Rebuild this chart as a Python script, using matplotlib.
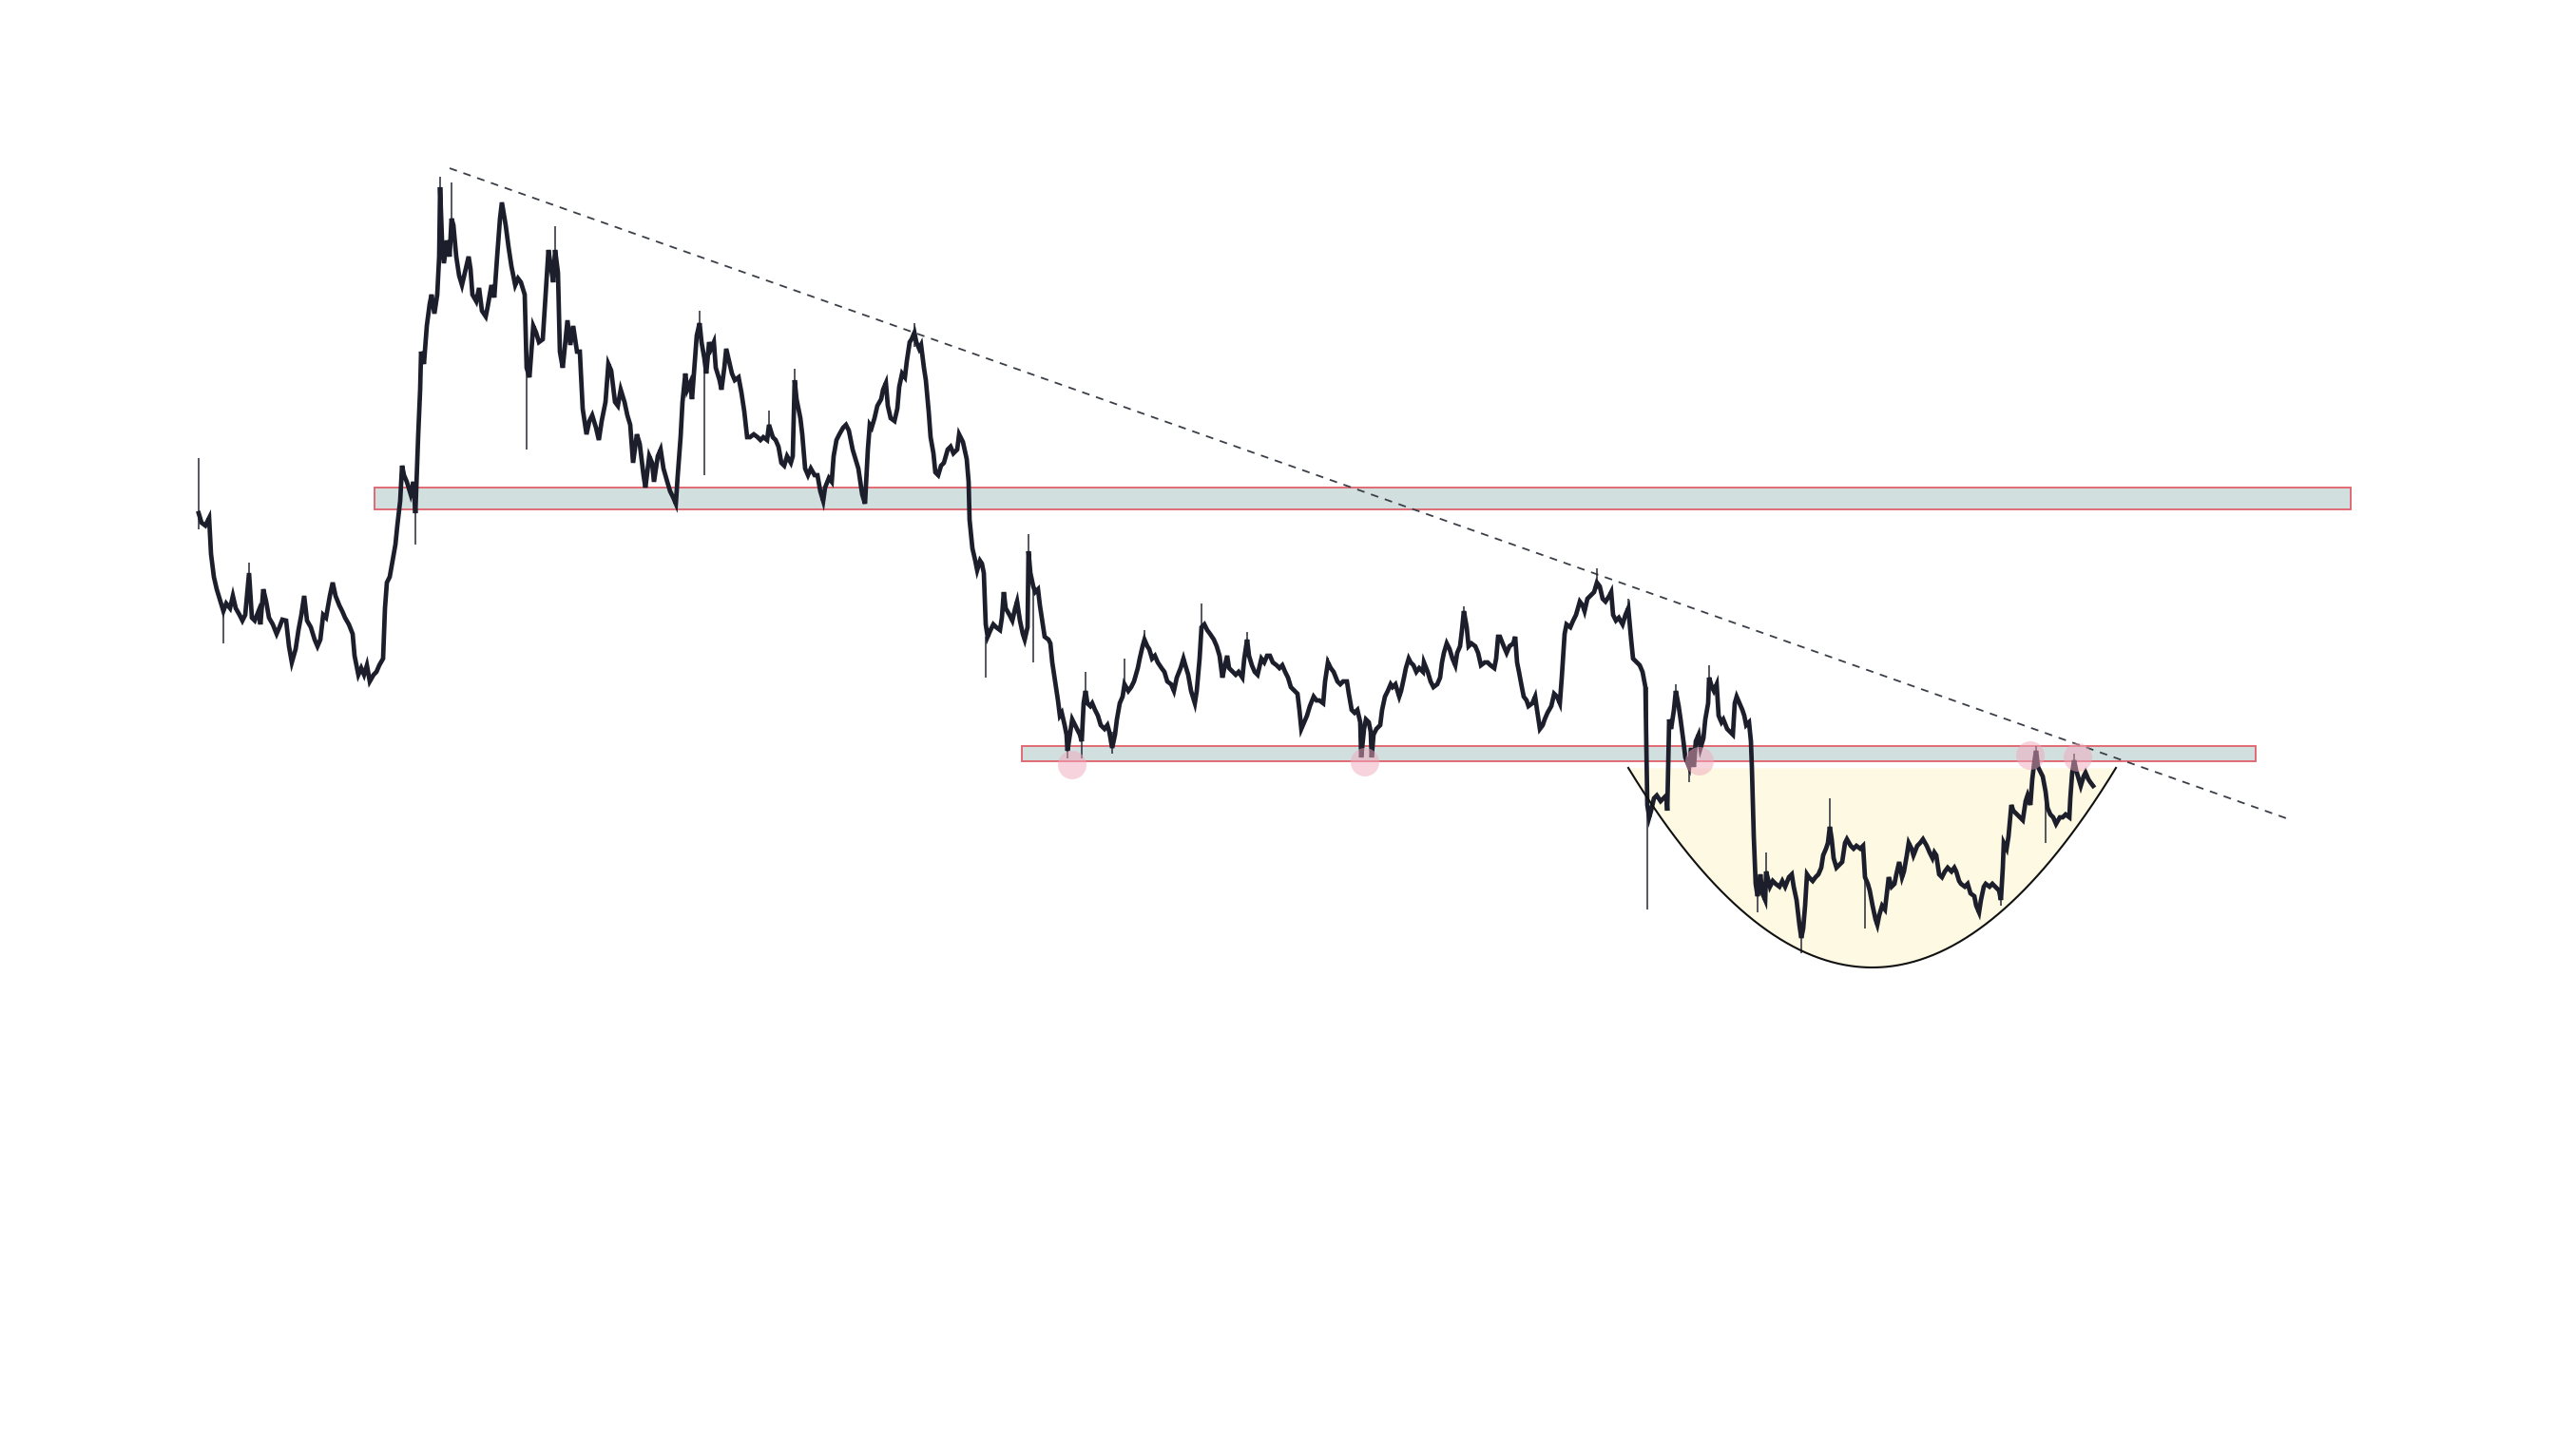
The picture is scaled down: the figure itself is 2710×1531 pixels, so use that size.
import numpy as np
import matplotlib
matplotlib.use("Agg")
import matplotlib.pyplot as plt
from matplotlib.patches import Rectangle, Circle

# ---- price path (time units, price units) ----
t = [209, 212, 216, 220, 222, 225, 228, 232, 235, 238, 242, 245, 248, 252, 255, 258, 262, 265, 268, 272,
     274, 277, 280, 283, 287, 291, 294, 297, 301, 304, 307, 311, 314, 317, 320, 323, 327, 331, 334, 337,
     340, 343, 347, 350, 353, 357, 360, 363, 367, 371, 373, 377, 380, 383, 386, 389, 393, 396, 399, 403,
     405, 407, 410, 413, 416, 418, 421, 423, 425, 428, 432, 435, 437, 440, 442, 443, 446, 449, 452, 454,
     457, 460, 462, 463, 465, 467, 470, 473, 475, 477, 480, 483, 486, 489, 493, 495, 497, 501, 504, 507,
     511, 513, 517, 520, 523, 526, 528, 532, 535, 538, 542, 545, 548, 552, 554, 557, 561, 564, 567, 571,
     574, 577, 579, 582, 584, 587, 589, 592, 595, 597, 600, 603, 607, 610, 613, 617, 620, 623, 627, 630,
     633, 637, 640, 643, 647, 650, 653, 657, 660, 663, 666, 670, 673, 677, 679, 683, 686, 688, 692, 695,
     698, 702, 705, 708, 711, 713, 716, 718, 721, 723, 726, 728, 731, 733, 736, 738, 741, 743, 746, 748,
     751, 753, 757, 759, 762, 764, 767, 770, 773, 777, 780, 783, 786, 789, 793, 797, 800, 803, 807, 809,
     813, 816, 819, 822, 825, 828, 832, 834, 836, 838, 842, 844, 847, 850, 853, 857, 860, 863, 866, 868,
     872, 875, 877, 880, 883, 887, 890, 893, 897, 900, 903, 907, 910, 913, 915, 917, 920, 923, 927, 929,
     932, 934, 937, 941, 944, 946, 949, 952, 954, 957, 959, 962, 964, 967, 969, 972, 974, 977, 979, 982,
     984, 987, 990, 993, 997, 1000, 1003, 1007, 1009, 1013, 1017, 1019, 1020, 1022, 1023, 1026, 1028, 1031, 1033, 1035,
     1037, 1039, 1042, 1045, 1048, 1052, 1054, 1056, 1058, 1062, 1065, 1068, 1070, 1073, 1076, 1078, 1081, 1082, 1084, 1087,
     1089, 1092, 1094, 1097, 1099, 1103, 1105, 1107, 1110, 1113, 1115, 1117, 1120, 1122, 1123, 1126, 1128, 1131, 1133, 1136,
     1138, 1140, 1142, 1144, 1147, 1149, 1152, 1155, 1158, 1162, 1165, 1167, 1170, 1173, 1175, 1178, 1181, 1183, 1187, 1190,
     1193, 1197, 1199, 1202, 1204, 1207, 1209, 1212, 1215, 1218, 1222, 1225, 1228, 1232, 1235, 1238, 1242, 1245, 1247, 1250,
     1253, 1257, 1259, 1262, 1264, 1267, 1270, 1273, 1277, 1280, 1283, 1286, 1288, 1291, 1293, 1297, 1300, 1303, 1307, 1309,
     1312, 1314, 1317, 1320, 1323, 1327, 1330, 1333, 1336, 1339, 1343, 1346, 1349, 1352, 1355, 1358, 1362, 1365, 1367, 1369,
     1372, 1375, 1378, 1382, 1385, 1388, 1392, 1394, 1397, 1400, 1403, 1407, 1410, 1413, 1417, 1419, 1422, 1425, 1428, 1431,
     1432, 1435, 1437, 1440, 1442, 1443, 1445, 1448, 1452, 1454, 1457, 1460, 1463, 1465, 1468, 1472, 1474, 1477, 1479, 1482,
     1484, 1487, 1490, 1493, 1497, 1498, 1502, 1505, 1508, 1512, 1515, 1517, 1519, 1522, 1525, 1528, 1531, 1533, 1536, 1538,
     1540, 1543, 1545, 1548, 1552, 1555, 1558, 1562, 1565, 1568, 1572, 1574, 1576, 1578, 1582, 1585, 1588, 1592, 1594, 1596,
     1598, 1601, 1603, 1606, 1608, 1612, 1615, 1617, 1620, 1623, 1625, 1628, 1632, 1635, 1638, 1641, 1643, 1646, 1648, 1652,
     1655, 1658, 1662, 1665, 1667, 1670, 1673, 1677, 1680, 1683, 1686, 1689, 1693, 1695, 1697, 1700, 1703, 1707, 1710, 1713,
     1716, 1718, 1722, 1725, 1728, 1731, 1733, 1735, 1737, 1740, 1743, 1747, 1750, 1753, 1754, 1756, 1758, 1761, 1763, 1766,
     1768, 1771, 1773, 1777, 1779, 1782, 1784, 1787, 1789, 1792, 1794, 1797, 1798, 1801, 1803, 1806, 1808, 1811, 1813, 1817,
     1820, 1823, 1825, 1827, 1830, 1833, 1835, 1837, 1840, 1842, 1843, 1845, 1847, 1849, 1852, 1854, 1857, 1858, 1862, 1865,
     1868, 1872, 1875, 1878, 1882, 1885, 1887, 1890, 1893, 1895, 1897, 1899, 1901, 1903, 1907, 1910, 1913, 1916, 1918, 1921,
     1923, 1925, 1927, 1929, 1932, 1935, 1938, 1941, 1943, 1947, 1950, 1953, 1957, 1960, 1962, 1965, 1967, 1970, 1973, 1975,
     1977, 1980, 1983, 1985, 1987, 1990, 1993, 1995, 1998, 2001, 2003, 2006, 2008, 2011, 2013, 2017, 2020, 2023, 2027, 2030,
     2033, 2035, 2037, 2040, 2043, 2046, 2049, 2053, 2056, 2058, 2061, 2063, 2067, 2070, 2073, 2077, 2079, 2082, 2084, 2087,
     2089, 2093, 2096, 2099, 2103, 2105, 2107, 2108, 2111, 2113, 2116, 2118, 2122, 2125, 2128, 2131, 2133, 2136, 2138, 2140,
     2142, 2144, 2147, 2149, 2152, 2154, 2157, 2160, 2163, 2167, 2170, 2173, 2177, 2178, 2180, 2182, 2184, 2187, 2189, 2192,
     2194, 2197, 2199, 2202]

price = [560, 550, 547, 555, 517, 493, 480, 467, 457, 465, 460, 473, 460, 453, 447, 453, 497, 450, 447, 457,
         443, 480, 467, 450, 443, 433, 440, 448, 447, 420, 403, 417, 437, 453, 473, 447, 440, 427, 420, 427,
         453, 450, 473, 487, 473, 463, 457, 450, 443, 433, 410, 390, 397, 390, 400, 383, 390, 393, 400, 407,
         460, 487, 493, 510, 527, 547, 573, 610, 600, 593, 580, 593, 560, 643, 690, 730, 717, 757, 780, 790,
         770, 790, 830, 903, 847, 823, 847, 830, 870, 863, 830, 810, 800, 813, 830, 817, 790, 783, 797, 773,
         767, 777, 800, 787, 830, 870, 887, 863, 840, 820, 800, 807, 803, 790, 713, 703, 757, 750, 740, 743,
         790, 837, 823, 803, 837, 813, 730, 713, 743, 763, 737, 757, 730, 730, 670, 643, 657, 663, 650, 637,
         657, 677, 717, 710, 677, 673, 690, 677, 663, 653, 613, 643, 633, 600, 587, 620, 613, 593, 620, 627,
         607, 593, 583, 577, 570, 600, 640, 677, 707, 690, 697, 680, 720, 747, 760, 740, 723, 707, 740, 733,
         740, 713, 700, 690, 713, 733, 720, 707, 700, 703, 687, 667, 640, 640, 643, 640, 637, 640, 637, 653,
         640, 637, 630, 613, 610, 620, 613, 620, 700, 680, 660, 643, 607, 600, 607, 600, 600, 583, 573, 587,
         597, 593, 620, 637, 643, 650, 653, 647, 627, 617, 607, 580, 570, 627, 653, 650, 660, 673, 680, 690,
         697, 673, 660, 657, 670, 693, 707, 703, 720, 740, 743, 750, 740, 733, 737, 713, 700, 667, 640, 623,
         603, 600, 610, 613, 627, 630, 623, 627, 643, 635, 617, 593, 553, 533, 523, 510, 500, 510, 507, 497,
         443, 430, 437, 443, 440, 437, 450, 477, 460, 453, 447, 460, 467, 447, 433, 427, 440, 520, 497, 483,
         477, 480, 463, 443, 430, 427, 423, 403, 383, 363, 347, 350, 337, 327, 310, 330, 343, 337, 333, 327,
         320, 360, 373, 360, 357, 360, 353, 347, 337, 333, 337, 330, 313, 327, 343, 360, 367, 380, 373, 377,
         383, 397, 407, 420, 427, 420, 417, 407, 410, 403, 397, 393, 383, 380, 373, 387, 397, 407, 400, 390,
         373, 360, 373, 407, 440, 443, 437, 433, 427, 420, 410, 387, 397, 410, 397, 393, 390, 393, 387, 407,
         427, 410, 400, 393, 390, 407, 403, 410, 410, 403, 400, 397, 400, 393, 387, 377, 373, 370, 353, 333,
         340, 347, 357, 367, 363, 363, 360, 383, 403, 397, 393, 383, 380, 383, 383, 370, 353, 350, 353, 340,
         303, 333, 343, 340, 330, 303, 327, 333, 337, 353, 367, 373, 380, 377, 380, 367, 373, 387, 397, 407,
         403, 400, 393, 397, 393, 403, 393, 383, 377, 380, 387, 403, 413, 423, 417, 407, 400, 413, 420, 437,
         457, 440, 420, 423, 420, 413, 400, 403, 403, 400, 397, 407, 430, 430, 420, 413, 420, 423, 430, 403,
         393, 377, 367, 363, 357, 360, 367, 353, 333, 337, 343, 350, 357, 370, 367, 360, 387, 433, 443, 440,
         447, 453, 467, 463, 457, 470, 473, 477, 487, 483, 470, 467, 473, 477, 453, 447, 450, 443, 453, 460,
         427, 407, 403, 400, 393, 377, 253, 240, 247, 260, 263, 257, 260, 263, 247, 343, 333, 353, 373, 357,
         343, 320, 303, 293, 313, 293, 320, 327, 313, 323, 343, 360, 387, 377, 373, 380, 347, 340, 343, 333,
         330, 327, 360, 367, 360, 353, 347, 337, 340, 320, 293, 220, 170, 157, 180, 160, 153, 183, 167, 173,
         170, 167, 173, 167, 177, 180, 167, 153, 127, 113, 123, 147, 180, 177, 173, 177, 180, 187, 200, 207,
         213, 230, 217, 197, 187, 190, 193, 213, 217, 210, 207, 210, 207, 210, 177, 170, 163, 147, 133, 127,
         137, 147, 143, 160, 177, 167, 170, 180, 193, 177, 183, 200, 213, 207, 200, 210, 213, 217, 210, 203,
         197, 203, 200, 180, 177, 183, 187, 183, 187, 183, 173, 170, 167, 170, 160, 157, 147, 140, 153, 167,
         170, 167, 170, 167, 163, 153, 187, 213, 207, 220, 253, 247, 243, 240, 237, 257, 263, 253, 280, 297,
         310, 293, 287, 283, 267, 250, 243, 240, 233, 240, 240, 243, 240, 260, 287, 300, 290, 280, 273, 283,
         287, 280, 277, 273]

# long wicks: time, low, high
wick_t = [209, 235, 262, 437, 463, 475, 554, 584, 736, 741, 809, 836, 962, 1037, 1082, 1087, 1123, 1138,
          1142, 1170, 1183, 1204, 1264, 1312, 1397, 1540, 1680, 1713, 1733, 1763, 1777, 1798, 1849, 1858,
          1895, 1925, 1962, 2105, 2142, 2152, 2182]
wick_low = [543, 423, 495, 527, 880, 865, 627, 810, 745, 600, 640, 690, 735, 387, 510, 403, 302, 302,
            370, 307, 375, 420, 440, 410, 395, 440, 480, 455, 143, 365, 277, 380, 140, 175,
            97, 220, 123, 147, 295, 213, 290]
wick_high = [618, 460, 508, 565, 914, 908, 720, 862, 773, 723, 668, 712, 760, 430, 538, 483, 330, 330,
             393, 330, 407, 437, 465, 435, 408, 462, 502, 470, 377, 380, 303, 400, 170, 203,
             120, 260, 180, 170, 315, 260, 307]

# horizontal zones (time start, time end, price low, price high)
zone_upper = (394, 2473, 564, 587)
zone_lower = (1075, 2373, 299, 315)
# descending trendline endpoints
trend_t = [473, 2408]
trend_p = [923, 238]
# touch markers
touch_t = [1128, 1436, 1788, 2136, 2186]
touch_p = [295, 298, 299, 305, 303]
# rounded-bottom (cup) geometry
cup_left, cup_right, cup_top, cup_bottom = 1713, 2226, 292, 82

fig = plt.figure(figsize=(27.10, 15.31), dpi=100)
ax = fig.add_axes([0, 0, 1, 1])
ax.set_xlim(0, 2710)
ax.set_ylim(1100 - 1531, 1100)
ax.axis("off")

# cup fill + outline
cx = np.linspace(cup_left, cup_right, 300)
mid = (cup_left + cup_right) / 2
half = (cup_right - cup_left) / 2
cy = cup_bottom + (cup_top - cup_bottom) * ((cx - mid) / half) ** 2
ax.fill_between(cx, cy, cup_top, color="#fdf9e2", zorder=1, linewidth=0)
ax.plot(cx, cy, color="#111111", lw=1.5, zorder=5)

# zones
for (x0, x1, p0, p1) in (zone_upper, zone_lower):
    ax.add_patch(Rectangle((x0, p0), x1 - x0, p1 - p0, facecolor="#d2dfdf",
                           edgecolor="#e0606a", lw=1.3, zorder=2))

# trendline
ax.plot(trend_t, trend_p, color="#3a3f47", lw=1.3, linestyle=(0, (4.5, 4.0)), zorder=3)

# wicks and price line
ax.vlines(wick_t, wick_low, wick_high, color="#262a36", lw=1.1, zorder=4)
ax.plot(t, price, color="#1c1f2b", lw=3.4, solid_joinstyle="miter", zorder=4)

# touch markers
for xt, pt in zip(touch_t, touch_p):
    ax.add_patch(Circle((xt, pt), 15, facecolor="#f0a8bd", alpha=0.5, edgecolor="none", zorder=6))

fig.savefig("out.png", dpi=100)
